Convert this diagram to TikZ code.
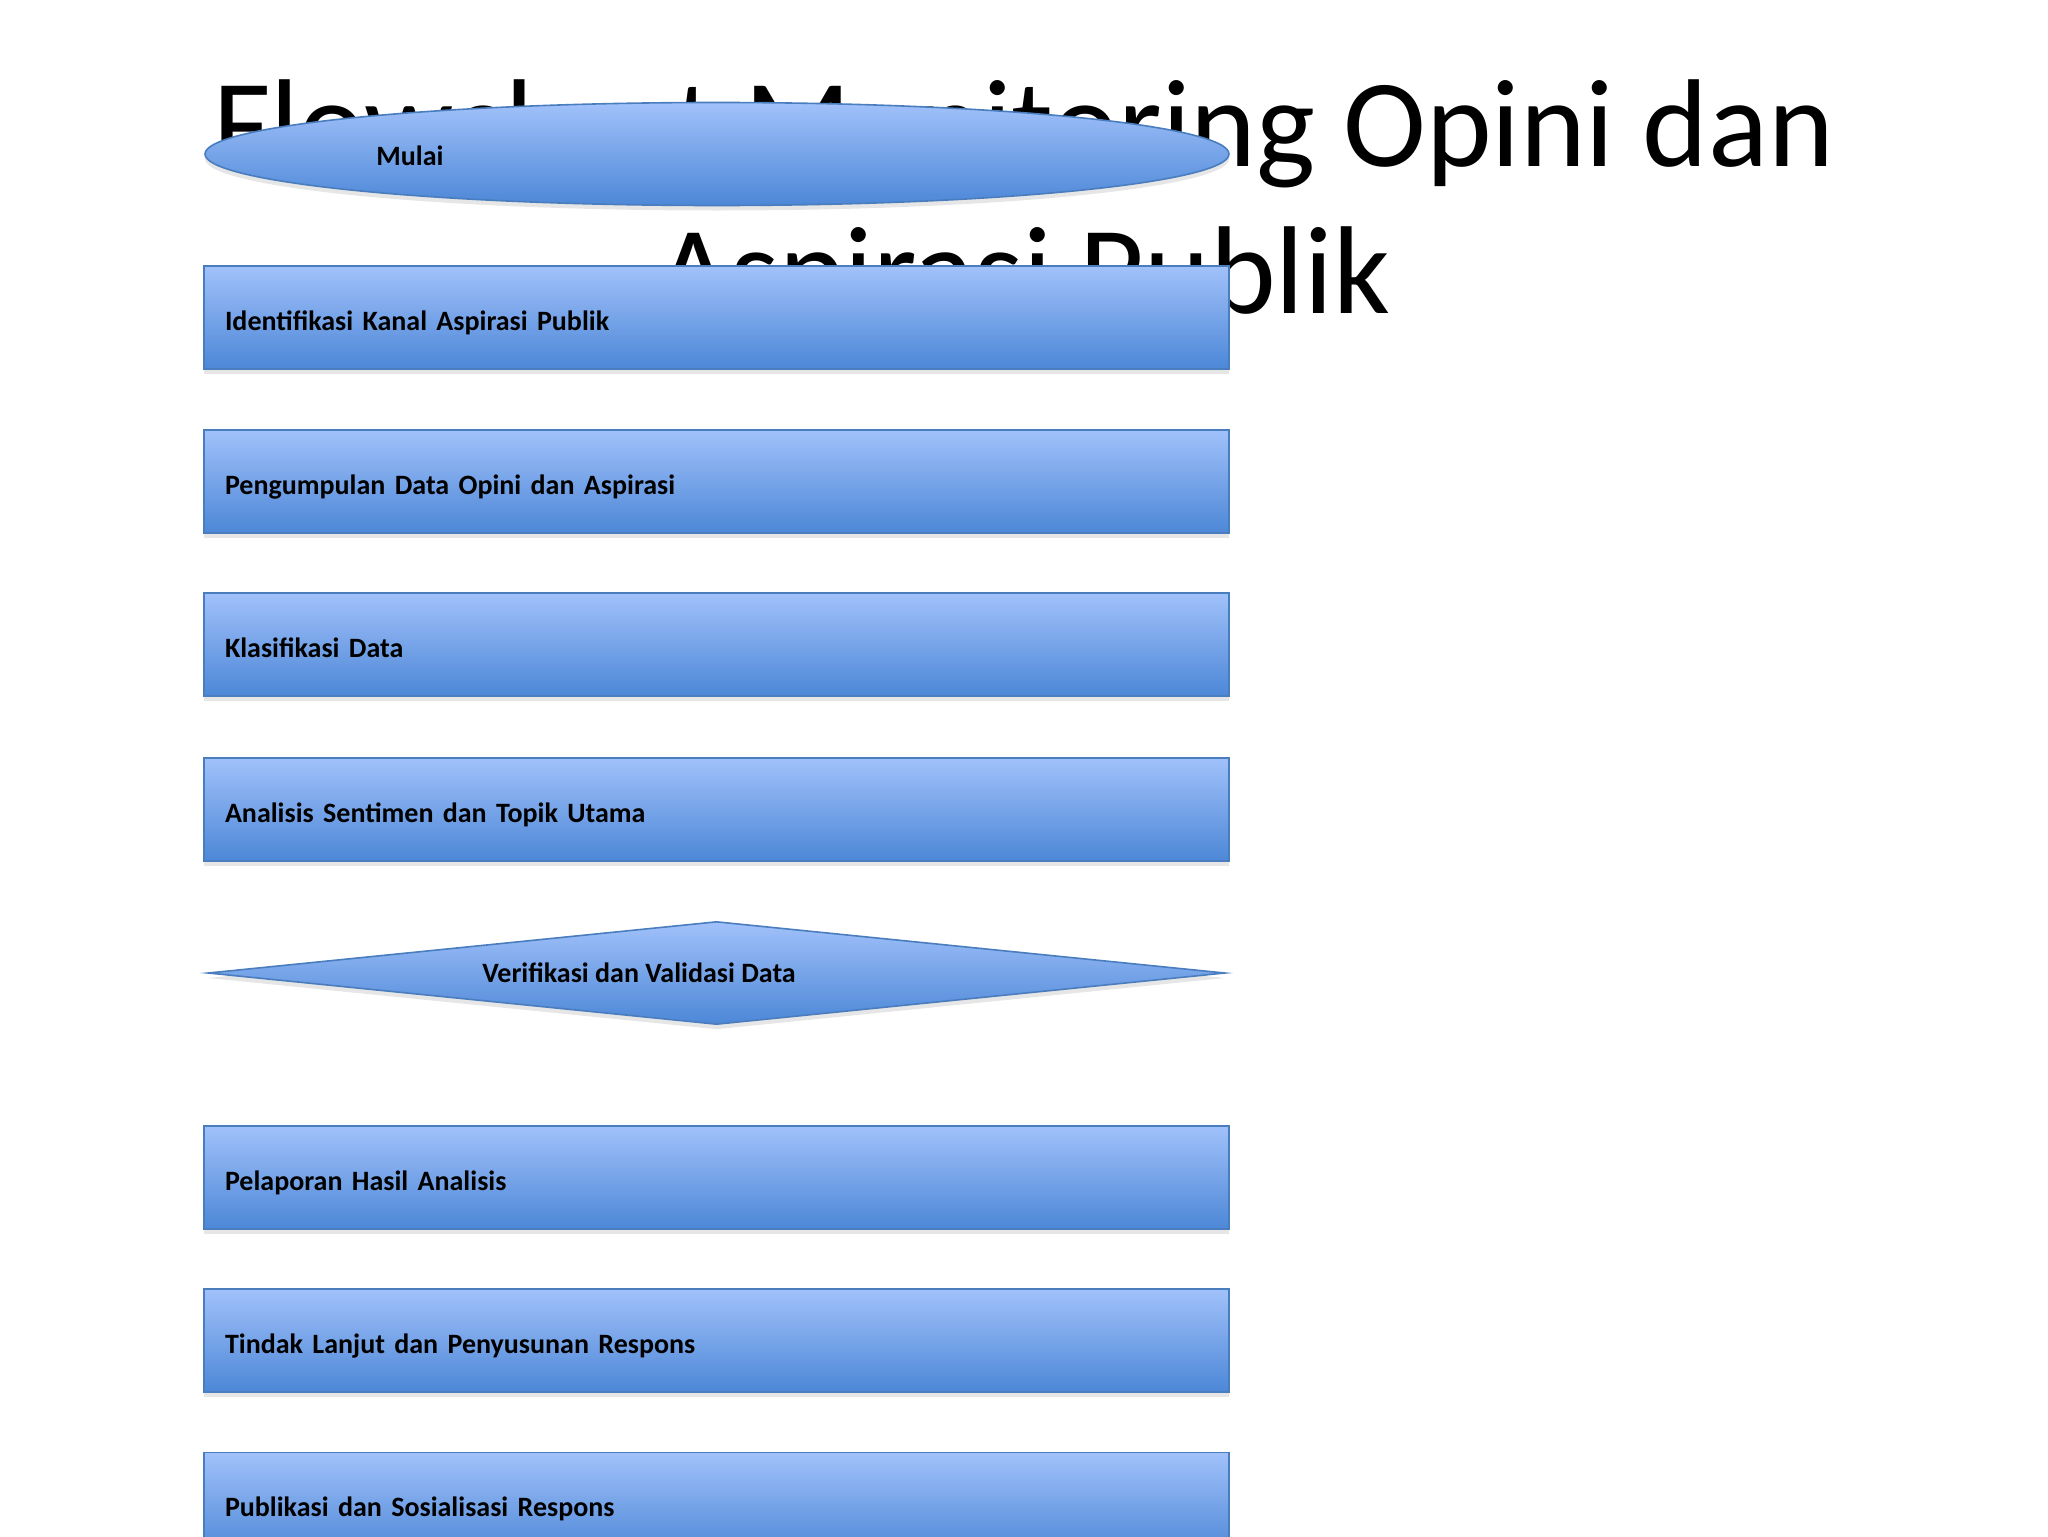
\documentclass[tikz,border=0pt]{standalone}
\usepackage{fontspec}
\setmainfont{Carlito}
\usetikzlibrary{shapes.geometric,shadows}
\definecolor{topblue}{HTML}{A1C1FA}
\definecolor{botblue}{HTML}{4C87D7}
\definecolor{edgeblue}{HTML}{4A7DBE}
\tikzset{
  px/.style={x=0.5pt,y=-0.5pt},
  fillshade/.style={top color=topblue,bottom color=botblue,draw=edgeblue,line width=0.8pt,
    drop shadow={opacity=0.2,shadow xshift=0pt,shadow yshift=-2.5pt}},
  stepbox/.style={fillshade,rectangle,minimum width=512.5pt,minimum height=51.5pt,
    text width=491.5pt,inner xsep=10.5pt,align=left,text height=12.5pt,text depth=0pt,
    font=\fontsize{14}{16}\selectfont\bfseries},
  startshape/.style={fillshade,ellipse,minimum width=512pt,minimum height=51.5pt,inner sep=0pt},
  decshape/.style={fillshade,diamond,minimum width=508.5pt,minimum height=51.5pt,inner sep=0pt},
  lbl/.style={font=\fontsize{14}{16}\selectfont\bfseries,inner sep=0pt},
  titletext/.style={font=\fontsize{62.5}{70}\selectfont,inner sep=0pt,anchor=base}
}
\begin{document}
\begin{tikzpicture}[px]
\useasboundingbox (0,0) rectangle (2048,1536);
\node[titletext] (title1) at (1024,166) {Flowchart Monitoring Opini dan};
\node[titletext] (title2) at (1024,313) {Aspirasi Publik};
\node[startshape] (mulai) at (717,154) {};
\node[lbl,anchor=base west] (mulaitext) at (376,165) {Mulai};
\node[stepbox] (s1) at (716.5,317.5) {Identifikasi Kanal Aspirasi Publik};
\node[stepbox] (s2) at (716.5,481.5) {Pengumpulan Data Opini dan Aspirasi};
\node[stepbox] (s3) at (716.5,644.5) {Klasifikasi Data};
\node[stepbox] (s4) at (716.5,809.5) {Analisis Sentimen dan Topik Utama};
\node[decshape] (dec) at (716.5,973) {};
\node[lbl,anchor=base] (dectext) at (639,982) {Verifikasi dan Validasi Data};
\node[stepbox] (s5) at (716.5,1177.5) {Pelaporan Hasil Analisis};
\node[stepbox] (s6) at (716.5,1340.5) {Tindak Lanjut dan Penyusunan Respons};
\node[stepbox] (s7) at (716.5,1504) {Publikasi dan Sosialisasi Respons};
\end{tikzpicture}
\end{document}
